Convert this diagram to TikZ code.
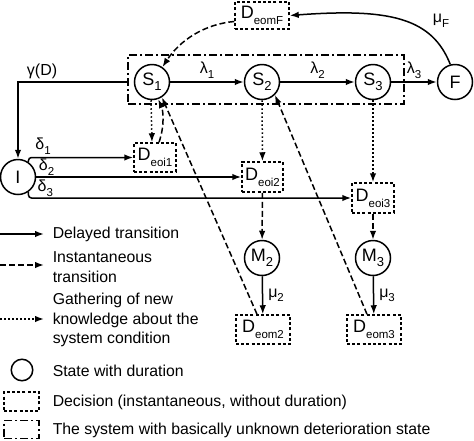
\documentclass[tikz,border=0pt]{standalone}
\usepackage{fontspec}
\setmainfont{Liberation Sans}
\usetikzlibrary{arrows.meta}
\newcommand\SubS[1]{\raisebox{-0.28em}{\fontsize{13}{13}\selectfont #1}}
\newcommand\SubD[1]{\raisebox{-0.32em}{\fontsize{11.5}{11.5}\selectfont #1}}
\newcommand\SubG[1]{\raisebox{-0.3em}{\fontsize{11.5}{11.5}\selectfont #1}}
\tikzset{
  stnode/.style={circle, draw, minimum size=35pt, inner sep=0pt, font=\fontsize{18}{18}\selectfont},
  dnode/.style={draw, dash pattern=on 3pt off 2.2pt, inner sep=0pt, font=\fontsize{18}{18}\selectfont},
  sysbox/.style={draw, dash pattern=on 8pt off 3pt on 2pt off 3pt, inner sep=0pt},
  delayed/.style={->},
  instant/.style={->, dash pattern=on 6pt off 3pt},
  gather/.style={->, dash pattern=on 1.5pt off 2.5pt},
  lab/.style={font=\fontsize{16}{16}\selectfont, inner sep=1pt},
  legtext/.style={anchor=west, inner sep=0pt, align=left, font=\fontsize{15.8}{19.5}\selectfont}
}
\begin{document}
\begin{tikzpicture}[x=1pt, y=-1pt, line width=1.5pt, >={Latex[length=9pt,width=6.5pt]}]
\useasboundingbox (0,0) rectangle (474,440);

% system box
\node[sysbox, minimum width=276pt, minimum height=49pt] (sys) at (266,79.5) {};

% states
\node[stnode] (S1) at (152,82) {S\SubS{1}};
\node[stnode] (S2) at (262,82) {S\SubS{2}};
\node[stnode] (S3) at (373,82) {S\SubS{3}};
\node[stnode] (F)  at (455,82) {F};
\node[stnode] (I)  at (18,177) {I};
\node[stnode] (M2) at (262,258) {M\SubS{2}};
\node[stnode] (M3) at (373,258) {M\SubS{3}};

% decisions
\node[dnode, minimum width=54pt, minimum height=27pt] (DeomF) at (262,15.5) {D\SubD{eomF}};
\node[dnode, minimum width=42pt, minimum height=29pt] (Deoi1) at (155,157.5) {D\SubD{eoi1}};
\node[dnode, minimum width=41pt, minimum height=30pt] (Deoi2) at (262.5,177) {D\SubD{eoi2}};
\node[dnode, minimum width=42pt, minimum height=30pt] (Deoi3) at (373,198) {D\SubD{eoi3}};
\node[dnode, minimum width=54pt, minimum height=29pt] (Deom2) at (263,329.5) {D\SubD{eom2}};
\node[dnode, minimum width=54pt, minimum height=29pt] (Deom3) at (374,329.5) {D\SubD{eom3}};

% delayed transitions
\draw[delayed] (S1) -- node[lab, above=2pt] {λ\SubG{1}} (S2);
\draw[delayed] (S2) -- node[lab, above=2pt] {λ\SubG{2}} (S3);
\draw[delayed] (S3) -- node[lab, above=2pt] {λ\SubG{3}} (F);
\draw[delayed] (F.105) .. controls (432,18) and (390,8) .. (DeomF.east);
\node[lab] (muF) at (441,21) {μ\SubG{F}};
\draw[delayed] (sys.west |- S1) -| node[lab, pos=0.39, above=1pt] {γ(D)} (I.north);
\draw[delayed, rounded corners=3pt] (I.55) |- node[lab, pos=0.57, above=1pt] {δ\SubG{1}} (Deoi1.west);
\draw[delayed] (I.east) -- node[lab, pos=0.05, above=0pt] {δ\SubG{2}} (Deoi2.west);
\draw[delayed, rounded corners=3pt] (I.-55) |- node[lab, pos=0.526, above=0pt] {δ\SubG{3}} (Deoi3.west);
\draw[delayed] (M2) -- node[lab, right=4pt] {μ\SubG{2}} (Deom2);
\draw[delayed] (M3) -- node[lab, right=4pt] {μ\SubG{3}} (Deom3);

% gathering of knowledge
\draw[gather] ([xshift=-1pt]S1.south) -- ([xshift=-3pt]Deoi1.north);
\draw[gather] (S2) -- (Deoi2);
\draw[gather] (S3) -- (Deoi3);

% instantaneous transitions
\draw[instant] ([yshift=-6pt]DeomF.west) .. controls (205,24) and (180,40) .. (S1.55);
\draw[instant] ([xshift=4pt]Deoi1.north) .. controls (165,125) and (163,110) .. (S1.-70);
\draw[instant] ([xshift=-6pt]Deom2.north) -- (S1.-57);
\draw[instant] ([xshift=-7pt]Deom3.north) -- (S2.-45);
\draw[instant] (Deoi2) -- (M2);
\draw[instant] (Deoi3) -- (M3);

% legend
\coordinate (l1a) at (0,234);  \coordinate (l1b) at (44,234);
\coordinate (l2a) at (0,265);  \coordinate (l2b) at (44,265);
\coordinate (l3a) at (0,319);  \coordinate (l3b) at (44,319);
\draw[delayed] (l1a) -- (l1b);
\draw[instant] (l2a) -- (l2b);
\draw[gather] (l3a) -- (l3b);
\node[legtext] (t1) at (52,234) {Delayed transition};
\node[legtext] (t2) at (52,267) {Instantaneous\\transition};
\node[legtext] (t3) at (52,320) {Gathering of new\\knowledge about the\\system condition};
\node[circle, draw, minimum size=21.5pt, inner sep=0pt] (legS) at (22,370) {};
\node[legtext] (t4) at (52,371) {State with duration};
\node[dnode, minimum width=35pt, minimum height=19pt] (legD) at (21.5,401.5) {};
\node[legtext] (t5) at (52,402) {Decision (instantaneous, without duration)};
\node[sysbox, minimum width=35pt, minimum height=18pt] (legSys) at (21.5,429.5) {};
\node[legtext] (t6) at (52,430) {The system with basically unknown deterioration state};
\end{tikzpicture}
\end{document}
